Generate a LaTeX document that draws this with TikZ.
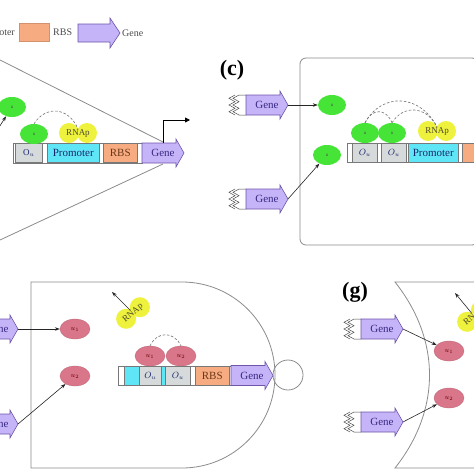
\documentclass[tikz,border=0pt]{standalone}
\usepackage{fontspec}
\setmainfont{Liberation Serif}
\usetikzlibrary{arrows.meta,shapes.geometric}
\definecolor{genefill}{RGB}{198,180,248}
\definecolor{genedraw}{RGB}{110,85,170}
\definecolor{genetext}{RGB}{55,40,130}
\definecolor{rbsfill}{RGB}{246,172,128}
\definecolor{rbstext}{RGB}{110,55,25}
\definecolor{promfill}{RGB}{95,230,246}
\definecolor{opfill}{RGB}{214,218,218}
\definecolor{navy}{RGB}{25,40,110}
\definecolor{ugreen}{RGB}{70,228,55}
\definecolor{upink}{RGB}{218,118,138}
\definecolor{rnapfill}{RGB}{238,242,60}
\definecolor{boxgray}{RGB}{120,120,120}
\definecolor{panelgray}{RGB}{140,140,140}
\tikzset{
  conn/.style={draw=black!85, line width=0.6pt, -{Stealth[length=5pt,width=3.5pt]}},
  dasharc/.style={draw=gray!90!black, dash pattern=on 2.5pt off 1.8pt, line width=0.6pt},
  panel/.style={draw=panelgray, line width=0.8pt},
  gfill/.style={fill=genefill, draw=genedraw, line width=0.6pt},
  gtext/.style={text=genetext, font=\fontsize{11}{11}\selectfont, inner sep=0pt},
  greenu/.style={ellipse, fill=ugreen, minimum width=28pt, minimum height=20pt, inner sep=0pt, font=\fontsize{5}{5}\selectfont\itshape, text=black!70},
  pinku/.style={ellipse, fill=upink, draw=upink!85!black, line width=0.3pt, minimum width=30pt, minimum height=20pt, inner sep=0pt, font=\fontsize{7}{7}\selectfont, text=black!60!red},
  box/.style={draw=boxgray, line width=0.5pt, minimum height=19pt, inner sep=0pt, anchor=west},
  opbox/.style={box, fill=opfill, font=\fontsize{9}{9}\selectfont, text=navy},
  prombox/.style={box, fill=promfill, font=\fontsize{11}{11}\selectfont, text=navy},
  rbsbox/.style={box, fill=rbsfill, font=\fontsize{11}{11}\selectfont, text=rbstext},
  strip/.style={draw=boxgray, line width=0.5pt, fill=white},
  rnaptext/.style={font=\fontsize{9}{9}\selectfont, text=black!60!olive, inner sep=0pt},
  plabel/.style={font=\fontsize{22}{22}\selectfont\bfseries, inner sep=0pt},
  legtext/.style={font=\fontsize{10}{10}\selectfont, text=black!70, inner sep=0pt},
}
\newcommand\genearrow[3]{%
  \draw[gfill] ({#2-42},{#3-10}) -- ({#2-8},{#3-10}) -- ({#2-8},{#3-14}) -- (#2,#3)
    -- ({#2-8},{#3+14}) -- ({#2-8},{#3+10}) -- ({#2-42},{#3+10}) -- cycle;
  \node[gtext] (#1) at ({#2-21},#3) {Gene};
  \coordinate (#1tip) at (#2,#3);
  \coordinate (#1top) at ({#2-21},{#3-10});
}
\newcommand\genetail[2]{%
  \draw[black!70, line width=0.5pt] ({#1-42},{#2-10}) -- ({#1-49},{#2-10}) -- ({#1-55},{#2-6.7})
    -- ({#1-49},{#2-3.3}) -- ({#1-55},{#2}) -- ({#1-49},{#2+3.3}) -- ({#1-55},{#2+6.7})
    -- ({#1-49},{#2+10}) -- ({#1-42},{#2+10});
  \draw[black!70, line width=0.5pt] ({#1-53},{#2-10}) -- ({#1-59},{#2-6.7})
    -- ({#1-53},{#2-3.3}) -- ({#1-59},{#2}) -- ({#1-53},{#2+3.3}) -- ({#1-59},{#2+6.7})
    -- ({#1-53},{#2+10});
}
\newcommand\rnap[4]{%
  \fill[rnapfill] ({#2-9*cos(#4)},{#3+9*sin(#4)}) circle[radius=10]
                  ({#2+9*cos(#4)},{#3-9*sin(#4)}) circle[radius=10];
  \node[rnaptext, rotate=#4] (#1) at (#2,#3) {RNAp};
}
\begin{document}
\begin{tikzpicture}[x=1pt,y=-1pt]
\useasboundingbox (0,0) rectangle (474,474);
\clip (0,0) rectangle (474,474);
\fill[white] (0,0) rectangle (474,474);

% ---------- legend ----------
\node[legtext, anchor=east] (lprom) at (15,32) {Promoter};
\node[draw=rbsfill!85!black, fill=rbsfill, minimum width=30pt, minimum height=18pt, inner sep=0pt] (lrbs) at (34,32) {};
\node[legtext, anchor=west] (lrbst) at (53,32) {RBS};
\draw[gfill] (78,24) -- (110,24) -- (110,18) -- (120,33) -- (110,48) -- (110,42) -- (78,42) -- cycle;
\node[legtext, anchor=west] (lgene) at (122,33) {Gene};

% ---------- panel (b) ----------
\draw[panel] (0,60) -- (163,142);
\draw[panel] (163,164) -- (0,240);
\draw[strip] (13,143) rectangle (142,163);
\node[opbox, minimum width=27pt] (obx) at (15,153) {O$_u$};
\node[prombox, minimum width=52pt] (prb) at (47,153) {Promoter};
\node[rbsbox, minimum width=34pt] (rbb) at (103,153) {RBS};
\genearrow{gb}{184}{153}
\coordinate (bendend) at (190,120);
\draw[line width=0.8pt, -{Triangle[length=5pt,width=5pt]}] (gbtop) |- (bendend);
\node[greenu] (ub1) at (12,107) {u};
\node[greenu] (ub2) at (34,134) {u};
\coordinate (ub1src) at (-4,132);
\draw[conn] (ub1src) -- (ub1);
\rnap{rnb}{78}{133}{0}
\draw[dasharc] (ub2.north) .. controls (45,106) and (68,106) .. (rnb.north);

% ---------- panel (c) ----------
\node[plabel] (lc) at (232,70) {(c)};
\draw[panel, rounded corners=6pt] (300,58) rectangle (478,245);
\genetail{288}{105}
\genearrow{gc1}{288}{105}
\genetail{288}{199}
\genearrow{gc2}{288}{199}
\node[greenu] (uc1) at (332,105) {u};
\node[greenu] (uc2) at (327,155) {u};
\draw[conn] (gc1tip) -- (uc1);
\draw[conn] (gc2tip) -- (uc2);
\draw[strip] (347,143) rectangle (480,162);
\node[opbox, minimum width=25pt] (oc1) at (352,152.5) {$O_u$};
\node[opbox, minimum width=25pt] (oc2) at (381,152.5) {$O_u$};
\node[prombox, minimum width=50pt] (pc) at (408,152.5) {Promoter};
\node[rbsbox, minimum width=20pt] (rc) at (462,152.5) {};
\node[greenu] (uc3) at (365,133) {u};
\node[greenu] (uc4) at (392,133) {u};
\rnap{rnc}{437}{131}{0}
\draw[dasharc] (uc3.north) .. controls (382,92) and (420,94) .. (rnc.north);
\draw[dasharc] (uc4.north) .. controls (402,106) and (425,104) .. (rnc.north);
\draw[dasharc] (uc3.north) .. controls (372,108) and (386,108) .. (uc4.north);

% ---------- panel (e) ----------
\draw[panel] (31,282) -- (182,282) arc[start angle=-90, end angle=90, radius=93] -- (31,468) -- cycle;
\node[draw=panelgray, line width=0.8pt, circle, minimum size=30pt, inner sep=0pt] (ce) at (288,375) {};
\genearrow{ge1}{18}{329}
\genearrow{ge2}{18}{424}
\node[pinku] (ue1) at (75,329) {$u_1$};
\node[pinku] (ue2) at (75,376) {$u_2$};
\draw[conn] (ge1tip) -- (ue1);
\draw[conn] (ge2tip) -- (ue2);
\draw[strip] (118,366) rectangle (232,385);
\node[box, fill=promfill, minimum width=15pt] (pe1) at (124,375.5) {};
\node[opbox, minimum width=22pt] (oe1) at (139,375.5) {$O_u$};
\node[box, fill=promfill, minimum width=4pt] (pe2) at (161,375.5) {};
\node[opbox, minimum width=25pt] (oe2) at (165,375.5) {$O_u$};
\node[rbsbox, minimum width=34pt] (re) at (195,375.5) {RBS};
\genearrow{ge}{273}{375.5}
\node[pinku] (ue3) at (150,356) {$u_1$};
\node[pinku] (ue4) at (181,356) {$u_2$};
\draw[dasharc] (ue3.north) .. controls (157,331) and (174,331) .. (ue4.north);
\rnap{rne}{133}{313}{40}
\coordinate (rneend) at (112,292);
\draw[conn] (rne) -- (rneend);

% ---------- panel (g) ----------
\node[plabel] (lg) at (355,292) {(g)};
\draw[panel] (478,282) -- (395,282) .. controls (441,340) and (441,410) .. (395,468) -- (478,468);
\genetail{403}{329}
\genearrow{gg1}{403}{329}
\genetail{403}{422}
\genearrow{gg2}{403}{422}
\node[pinku] (ug1) at (449,351) {$u_1$};
\node[pinku] (ug2) at (449,398) {$u_2$};
\draw[conn] (gg1tip) -- (ug1);
\draw[conn] (gg2tip) -- (ug2);
\rnap{rng}{474}{316}{40}
\coordinate (rngend) at (455,293);
\draw[conn] (rng) -- (rngend);
\end{tikzpicture}
\end{document}
